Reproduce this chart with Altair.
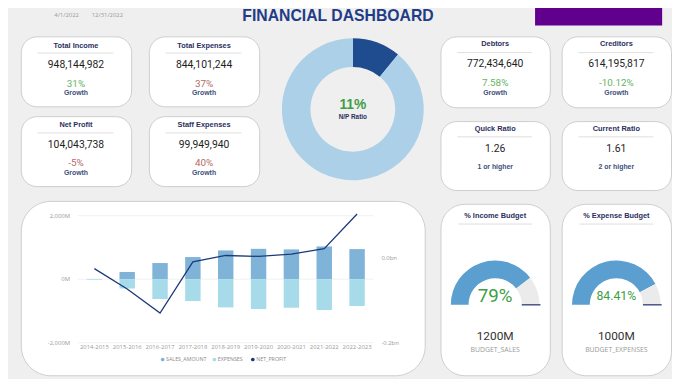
import altair as alt
import pandas as pd

# ---------------- data ----------------
period_start = "4/1/2022"
period_end = "12/31/2022"
dashboard_title = "FINANCIAL DASHBOARD"

kpi_titles = ["Total Income", "Total Expenses", "Net Profit", "Staff Expenses"]
kpi_values = ["948,144,982", "844,101,244", "104,043,738", "99,949,940"]
kpi_growth = ["31%", "37%", "-5%", "40%"]
kpi_growth_good = [True, False, False, False]

balance_titles = ["Debtors", "Creditors"]
balance_values = ["772,434,640", "614,195,817"]
balance_growth = ["7.58%", "-10.12%"]

ratio_titles = ["Quick Ratio", "Current Ratio"]
ratio_values = ["1.26", "1.61"]
ratio_targets = ["1 or higher", "2 or higher"]

np_parts = ["Net profit", "Other"]
np_shares = [11, 89]
np_label = "11%"
np_caption = "N/P Ratio"

fiscal_years = ["2014-2015", "2015-2016", "2016-2017", "2017-2018", "2018-2019",
                "2019-2020", "2020-2021", "2021-2022", "2022-2023"]
sales_amount = [8, 228, 509, 697, 906, 956, 938, 1031, 948]          # M
expenses = [-12, -293, -625, -688, -888, -938, -897, -969, -844]      # M
net_profit_bn = [-0.025, -0.073, -0.130, -0.009, 0.006, 0.004, 0.009, 0.022, 0.104]
left_ticks = [2000, 0, -2000]
right_ticks = [0.0, -0.2]
series_names = ["SALES_AMOUNT", "EXPENSES", "NET_PROFIT"]

budget_titles = ["% Income Budget", "% Expense Budget"]
budget_achieved = [79.0, 84.41]
budget_labels = ["79%", "84.41%"]
budget_amounts = ["1200M", "1000M"]
budget_names = ["BUDGET_SALES", "BUDGET_EXPENSES"]

# ---------------- styles ----------------
BG = "#efefef"
NAVY = "#2b2f5e"
GREEN = "#66b466"
RED = "#b46a6a"
GREEN_BIG = "#3f9e45"
C_SALES = "#7fb3d8"
C_EXP = "#a7dbea"
C_NET = "#1c3a78"
C_DARK = "#1f4b8f"
C_LIGHT = "#abd0e8"
C_GAUGE = "#5b9fd0"
C_GAUGE_BG = "#ebebeb"
C_AXIS = "#9a9a9a"
CARD_STROKE = "#cdcdcd"
TITLE_FONT = "Liberation Sans, Arial, sans-serif"
VALUE_FONT = "Roboto, sans-serif"
SMALL_FONT = "Open Sans, sans-serif"


def card_view(radius):
    return alt.ViewBackground(fill="white", cornerRadius=radius, stroke=CARD_STROKE, strokeWidth=1)


def H(*charts, spacing):
    return alt.hconcat(*charts, spacing=spacing).resolve_scale(color="independent", theta="independent")


def V(*charts, spacing):
    return alt.vconcat(*charts, spacing=spacing).resolve_scale(color="independent", theta="independent")


def kpi_card(title, value, growth, gcolor, sub, w, h, ys):
    df = pd.DataFrame({"title": [title], "value": [value], "growth": [growth], "sub": [sub]})
    b = alt.Chart(df)
    yt, ysep, yv, yg, ysub = ys
    layers = [
        b.mark_text(font=TITLE_FONT, fontWeight="bold", fontSize=7.5, color=NAVY, baseline="middle")
         .encode(x=alt.value(w / 2), y=alt.value(yt), text="title:N"),
        b.mark_rule(color="#d6d6d6", strokeWidth=0.8)
         .encode(x=alt.value(17), x2=alt.value(w - 18), y=alt.value(ysep)),
        b.mark_text(font=VALUE_FONT, fontSize=10.5, color="#1e1e1e", baseline="middle")
         .encode(x=alt.value(w / 2), y=alt.value(yv), text="value:N"),
    ]
    if growth is not None:
        layers.append(
            b.mark_text(font=VALUE_FONT, fontSize=10, color=gcolor, baseline="middle")
             .encode(x=alt.value(w / 2), y=alt.value(yg), text="growth:N"))
    layers.append(
        b.mark_text(font=TITLE_FONT, fontWeight="bold", fontSize=7, color="#3d4f7c", baseline="middle")
         .encode(x=alt.value(w / 2), y=alt.value(ysub), text="sub:N"))
    return alt.layer(*layers).properties(width=w, height=h, view=card_view(16))


# ---------------- header ----------------
hdr_df = pd.DataFrame({"start": [period_start], "end": [period_end], "title": [dashboard_title]})
hb = alt.Chart(hdr_df)
header = alt.layer(
    hb.mark_text(align="left", baseline="middle", fontSize=6, color=C_AXIS, font=SMALL_FONT)
      .encode(x=alt.value(34), y=alt.value(7), text="start:N"),
    hb.mark_text(align="left", baseline="middle", fontSize=6, color=C_AXIS, font=SMALL_FONT)
      .encode(x=alt.value(72), y=alt.value(7), text="end:N"),
    hb.mark_text(baseline="middle", fontSize=16, fontWeight="bold", color="#1f3d87", font=TITLE_FONT)
      .encode(x=alt.value(322), y=alt.value(8), text="title:N"),
    hb.mark_rect(color="#62008e")
      .encode(x=alt.value(522), x2=alt.value(651), y=alt.value(0), y2=alt.value(18)),
).properties(width=652, height=19)

# ---------------- KPI cards ----------------
KY = (9.5, 17, 29.5, 48, 58)
kcards = [kpi_card(kpi_titles[i], kpi_values[i], kpi_growth[i],
                   GREEN if kpi_growth_good[i] else RED, "Growth", 112, 71, KY) for i in range(4)]
cards_grid = V(H(kcards[0], kcards[1], spacing=16), H(kcards[2], kcards[3], spacing=16), spacing=8)

# ---------------- donut ----------------
donut_df = pd.DataFrame({"part": np_parts, "share": np_shares, "k": [0, 1]})
dtext_df = pd.DataFrame({"label": [np_label], "caption": [np_caption]})
donut = alt.layer(
    alt.Chart(donut_df).mark_arc(radius=72, radius2=43).encode(
        theta=alt.Theta("share:Q", stack=True),
        order=alt.Order("k:Q"),
        color=alt.Color("part:N", scale=alt.Scale(domain=np_parts, range=[C_DARK, C_LIGHT]), legend=None),
        x=alt.value(85), y=alt.value(74)),
    alt.Chart(dtext_df).mark_text(font=TITLE_FONT, fontWeight="bold", fontSize=14, color=GREEN_BIG, baseline="middle")
      .encode(x=alt.value(85), y=alt.value(70), text="label:N"),
    alt.Chart(dtext_df).mark_text(font=TITLE_FONT, fontWeight="bold", fontSize=6.5, color=NAVY, baseline="middle")
      .encode(x=alt.value(85), y=alt.value(82), text="caption:N"),
).properties(width=162, height=150)

# ---------------- combo chart ----------------
x_sc = alt.Scale(type="band", domain=fiscal_years, range=[58, 358], paddingInner=0.53, paddingOuter=0.265)
yl_sc = alt.Scale(domain=[-2000, 2000], range=[144, 15], nice=False)
yr_sc = alt.Scale(domain=[-0.2, 0.1], range=[144, 15], nice=False)

combo_df = pd.DataFrame({"year": fiscal_years, "sales": sales_amount, "expenses": expenses, "net": net_profit_bn})
cb = alt.Chart(combo_df)
X = alt.X("year:N", scale=x_sc, axis=None)
lt_df = pd.DataFrame({"tick": left_ticks})
rt_df = pd.DataFrame({"tick": right_ticks})

grid = alt.Chart(lt_df).mark_rule(color="#ededed", strokeWidth=0.8).encode(
    y=alt.Y("tick:Q", scale=yl_sc, axis=None), x=alt.value(58), x2=alt.value(358))
bars_s = cb.mark_bar(color=C_SALES).encode(x=X, y=alt.Y("sales:Q", scale=yl_sc, axis=None))
bars_e = cb.mark_bar(color=C_EXP).encode(x=X, y=alt.Y("expenses:Q", scale=yl_sc, axis=None))
line = cb.mark_line(color=C_NET, strokeWidth=1.3).encode(x=X, y=alt.Y("net:Q", scale=yr_sc, axis=None))
left_lab = alt.Chart(lt_df).transform_calculate(
    label="replace(format(datum.tick, ','), '\u2212', '-') + 'M'"
).mark_text(align="right", baseline="middle", fontSize=6, color=C_AXIS, font=SMALL_FONT).encode(
    y=alt.Y("tick:Q", scale=yl_sc, axis=None), x=alt.value(50), text="label:N")
right_lab = alt.Chart(rt_df).transform_calculate(
    label="replace(format(datum.tick, '.1f'), '\u2212', '-') + 'bn'"
).mark_text(align="left", baseline="middle", fontSize=6, color=C_AXIS, font=SMALL_FONT).encode(
    y=alt.Y("tick:Q", scale=yr_sc, axis=None), x=alt.value(366), text="label:N")
x_lab = cb.mark_text(baseline="middle", fontSize=6, color=C_AXIS, font=SMALL_FONT).encode(
    x=X, y=alt.value(148), text="year:N")

LEG_X = [144, 196.5, 235.5]
leg_colors = [C_SALES, C_EXP, C_NET]
legend_layers = []
for i, nm in enumerate(series_names):
    ldf = pd.DataFrame({"name": [nm]})
    legend_layers.append(alt.Chart(ldf).mark_point(filled=True, size=14, color=leg_colors[i], opacity=1)
                         .encode(x=alt.value(LEG_X[i]), y=alt.value(161)))
    legend_layers.append(alt.Chart(ldf).mark_text(align="left", baseline="middle", fontSize=5.4,
                                                  color="#8a8a8a", font=SMALL_FONT)
                         .encode(x=alt.value(LEG_X[i] + 3.5), y=alt.value(161), text="name:N"))

combo = alt.layer(grid, bars_s, bars_e, line, left_lab, right_lab, x_lab, *legend_layers).resolve_scale(
    y="independent").properties(width=410, height=177, view=card_view(30))

left = V(H(cards_grid, donut, spacing=8), combo, spacing=13)

# ---------------- right column ----------------
BY = (8, 16.5, 28.5, 47.5, 57.5)
bcards = [kpi_card(balance_titles[i], balance_values[i], balance_growth[i], GREEN, "Growth", 111, 72, BY)
          for i in range(2)]
RY = (8, 16, 28.5, 0, 46.5)
rcards = [kpi_card(ratio_titles[i], ratio_values[i], None, GREEN, ratio_targets[i], 111, 70, RY)
          for i in range(2)]


def gauge_card(title, achieved, label, amount, name, w, h):
    seg_df = pd.DataFrame({"seg": ["Achieved", "Remaining"], "share": [achieved, 100 - achieved], "k": [0, 1]})
    txt_df = pd.DataFrame({"title": [title], "label": [label], "amount": [amount], "name": [name]})
    t = alt.Chart(txt_df)
    cx, cy = w / 2, 102.5
    big = 19 if len(label) <= 3 else 12.5
    return alt.layer(
        t.mark_text(font=TITLE_FONT, fontWeight="bold", fontSize=7.5, color=NAVY, baseline="middle")
         .encode(x=alt.value(w / 2), y=alt.value(12), text="title:N"),
        t.mark_rule(color="#d6d6d6", strokeWidth=0.8)
         .encode(x=alt.value(18), x2=alt.value(w - 18), y=alt.value(20.5)),
        alt.Chart(seg_df).mark_arc(radius=45, radius2=27).encode(
            theta=alt.Theta("share:Q", stack=True,
                            scale=alt.Scale(domain=[0, 100], range=[4.71238898, 7.85398163], nice=False)),
            order=alt.Order("k:Q"),
            color=alt.Color("seg:N", scale=alt.Scale(domain=["Achieved", "Remaining"],
                                                     range=[C_GAUGE, C_GAUGE_BG]), legend=None),
            x=alt.value(cx), y=alt.value(cy)),
        t.mark_rule(color="#2b3a78", strokeWidth=1.3)
         .encode(x=alt.value(cx + 27), x2=alt.value(cx + 46), y=alt.value(cy)),
        t.mark_text(font=VALUE_FONT, fontSize=big, color=GREEN_BIG, baseline="middle")
         .encode(x=alt.value(cx), y=alt.value(94), text="label:N"),
        t.mark_text(font=VALUE_FONT, fontSize=12, color="#333333", baseline="middle")
         .encode(x=alt.value(cx), y=alt.value(134), text="amount:N"),
        t.mark_text(font=SMALL_FONT, fontSize=7, color="#9a9a9a", baseline="middle")
         .encode(x=alt.value(cx), y=alt.value(148), text="name:N"),
    ).properties(width=w, height=h, view=card_view(24))


gcards = [gauge_card(budget_titles[i], budget_achieved[i], budget_labels[i], budget_amounts[i],
                     budget_names[i], 111, 174) for i in range(2)]

right = V(H(bcards[0], bcards[1], spacing=10), H(rcards[0], rcards[1], spacing=10),
          H(gcards[0], gcards[1], spacing=10), spacing=12)

body = H(left, right, spacing=10)

chart = V(header, body, spacing=8).properties(
    background=BG, padding={"left": 12, "top": -4, "right": 0, "bottom": 0}
).configure_view(stroke="transparent")

chart.save("out.html", embed_options={"renderer": "svg", "actions": False})
